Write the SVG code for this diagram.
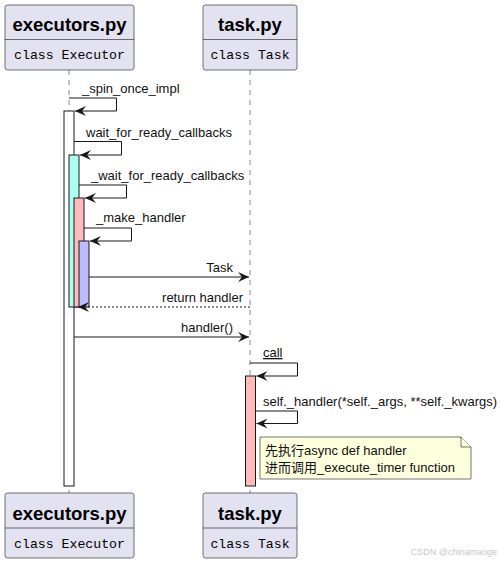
<svg xmlns="http://www.w3.org/2000/svg" width="501" height="564" viewBox="0 0 501 564">
<defs>
<style>
.hdr{fill:#E2E2F0;stroke:#181818;stroke-width:0.6}
.sep{stroke:#181818;stroke-width:0.6}
.title{font-family:"Liberation Sans",Arial,sans-serif;font-weight:bold;font-size:18.5px;fill:#000;text-anchor:middle}
.cls{font-family:"Liberation Mono","Courier New",monospace;font-size:13.2px;fill:#000;text-anchor:middle}
.life{stroke:#888;stroke-width:1;stroke-dasharray:5,5;fill:none}
.act{stroke:#181818;stroke-width:1}
.msg{stroke:#181818;stroke-width:1;fill:none}
.ret{stroke:#181818;stroke-width:1;fill:none;stroke-dasharray:2,2}
.lbl{font-family:"Liberation Sans",Arial,sans-serif;font-size:13px;fill:#111}
.note{fill:#FEFFDD;stroke:#181818;stroke-width:0.6}
</style>
<marker id="ah" markerWidth="12" markerHeight="10" refX="11" refY="5" orient="auto" markerUnits="userSpaceOnUse">
<path d="M0,0 L11,5 L0,10 L4,5 Z" fill="#181818"/>
</marker>
</defs>
<rect width="501" height="564" fill="#fff"/>
<g id="lifelines">
<line class="life" x1="69" y1="70" x2="69" y2="493"/>
<line class="life" x1="250" y1="70" x2="250" y2="493"/>
</g>
<g id="executor-top">
<rect class="hdr" x="5" y="5" width="129" height="65" rx="2.5"/>
<line class="sep" x1="5" y1="39.5" x2="134" y2="39.5"/>
<text class="title" x="69.5" y="31">executors.py</text>
<text class="cls" x="69.5" y="59">class Executor</text>
</g>
<g id="task-top">
<rect class="hdr" x="203" y="5" width="94" height="65" rx="2.5"/>
<line class="sep" x1="203" y1="39.5" x2="297" y2="39.5"/>
<text class="title" x="250" y="31">task.py</text>
<text class="cls" x="250" y="59">class Task</text>
</g>
<g id="executor-bottom">
<rect class="hdr" x="5" y="493" width="129" height="65" rx="2.5"/>
<line class="sep" x1="5" y1="528" x2="134" y2="528"/>
<text class="title" x="69.5" y="520">executors.py</text>
<text class="cls" x="69.5" y="548">class Executor</text>
</g>
<g id="task-bottom">
<rect class="hdr" x="203" y="493" width="94" height="65" rx="2.5"/>
<line class="sep" x1="203" y1="528" x2="297" y2="528"/>
<text class="title" x="250" y="520">task.py</text>
<text class="cls" x="250" y="548">class Task</text>
</g>
<g id="activations">
<rect class="act" x="64" y="111" width="10" height="375" fill="#FFFFFF"/>
<rect class="act" x="69" y="155" width="10" height="152" fill="#AAFFEE"/>
<rect class="act" x="74" y="198" width="10" height="109" fill="#FFBBBB"/>
<rect class="act" x="79" y="241" width="10" height="66" fill="#BBBBFF"/>
<rect class="act" x="245.5" y="376" width="10" height="110" fill="#FFBBBB"/>
</g>
<g id="connectors">
<polyline class="msg" points="69,98 116.5,98 116.5,111 75,111" marker-end="url(#ah)"/>
<polyline class="msg" points="74,141.5 121.5,141.5 121.5,155 80,155" marker-end="url(#ah)"/>
<polyline class="msg" points="79,185 126.5,185 126.5,198 85,198" marker-end="url(#ah)"/>
<polyline class="msg" points="84,228 131.5,228 131.5,241 90,241" marker-end="url(#ah)"/>
<line class="msg" x1="89" y1="277" x2="249" y2="277" marker-end="url(#ah)"/>
<line class="ret" x1="250" y1="307" x2="78" y2="307" marker-end="url(#ah)"/>
<line class="msg" x1="74" y1="337" x2="249" y2="337" marker-end="url(#ah)"/>
<polyline class="msg" points="250,363 297.5,363 297.5,376 256.5,376" marker-end="url(#ah)"/>
<polyline class="msg" points="255.5,411 297.5,411 297.5,423.5 256.5,423.5" marker-end="url(#ah)"/>
</g>
<g id="labels">
<text class="lbl" x="82" y="93">_spin_once_impl</text>
<text class="lbl" x="86" y="137">wait_for_ready_callbacks</text>
<text class="lbl" x="91" y="180">_wait_for_ready_callbacks</text>
<text class="lbl" x="96" y="222">_make_handler</text>
<text class="lbl" x="233" y="272" text-anchor="end">Task</text>
<text class="lbl" x="243" y="302" text-anchor="end">return handler</text>
<text class="lbl" x="233" y="332" text-anchor="end">handler()</text>
<text class="lbl" x="263" y="357" text-decoration="underline">call</text>
<text class="lbl" x="263" y="406">self._handler(*self._args, **self._kwargs)</text>
</g>
<g id="note">
<path class="note" d="M260,437 L461,437 L471,447 L471,479 L260,479 Z"/>
<path class="note" d="M461,437 L461,447 L471,447"/>
<text class="lbl" x="265" y="455" style="font-family:'Liberation Sans','Noto Sans CJK SC',sans-serif">先执行async def handler</text>
<text class="lbl" x="265" y="472" style="font-family:'Liberation Sans','Noto Sans CJK SC',sans-serif">进而调用_execute_timer function</text>
</g>
<text x="497" y="555" text-anchor="end" style="font-family:'Liberation Sans',Arial,sans-serif;font-size:9px;fill:#C8C8C8">CSDN @chinamaoge</text>
</svg>
